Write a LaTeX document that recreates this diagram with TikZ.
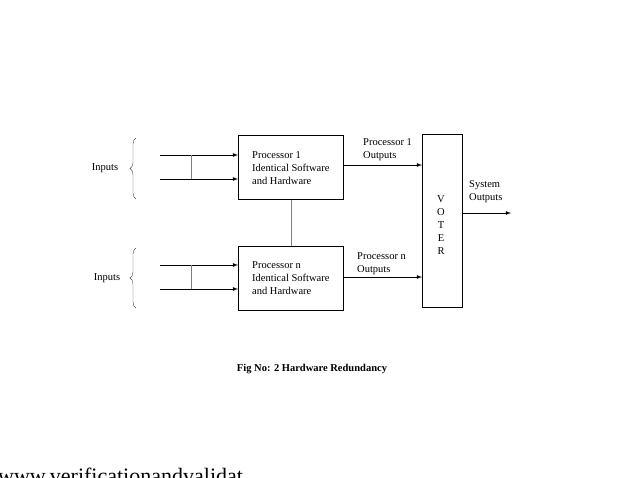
\documentclass[tikz,border=0pt]{standalone}
\usepackage{fontspec}
\setmainfont{Liberation Serif}
\usetikzlibrary{decorations.pathreplacing}
\begin{document}
\begin{tikzpicture}[x=1pt,y=-1pt,
  box/.style={draw,thick,minimum width=105pt,minimum height=64pt,inner sep=0},
  lbl/.style={font=\fontsize{10.5}{13}\selectfont,align=left,inner sep=0},
  arr/.style={thick,-latex},
  br/.style={decorate,decoration={brace,amplitude=6pt},gray!60!black}]
\path[use as bounding box] (0,0) rectangle (638,478);
\node[box,anchor=north west] (p1) at (238,135) {};
\node[box,anchor=north west] (pn) at (238,246) {};
\node[draw,thick,anchor=north west,minimum width=40pt,minimum height=173pt,inner sep=0] (v) at (422,134) {};
\node[lbl,anchor=west] (t1) at (252,168) {Processor 1\\Identical Software\\and Hardware};
\node[lbl,anchor=west] (tn) at (252,278) {Processor n\\Identical Software\\and Hardware};
\node[lbl,align=center] (vt) at (441,225) {V\\O\\T\\E\\R};
\draw[gray] (p1.south) -- (pn.north);
\foreach \y/\n in {155/a,179/b,265/c,289/d}{
  \coordinate (s\n) at (160,\y);
  \coordinate (e\n) at (238,\y);
  \draw[arr] (s\n) -- (e\n);}
\coordinate (ma) at (191,155); \coordinate (mb) at (191,179);
\coordinate (mc) at (191,265); \coordinate (md) at (191,289);
\draw[gray] (ma) -- (mb); \draw[gray] (mc) -- (md);
\coordinate (b1t) at (136,138); \coordinate (b1b) at (136,199);
\coordinate (b2t) at (136,248); \coordinate (b2b) at (136,308);
\draw[br] (b1b) -- (b1t);
\draw[br] (b2b) -- (b2t);
\node[lbl] (i1) at (105,168) {Inputs};
\node[lbl] (i2) at (107,278) {Inputs};
\coordinate (o1s) at (343,165); \coordinate (o1e) at (422,165);
\coordinate (ons) at (343,277); \coordinate (one) at (422,277);
\draw[arr] (o1s) -- (o1e); \draw[arr] (ons) -- (one);
\node[lbl,anchor=west] (po1) at (363,149.5) {Processor 1\\Outputs};
\node[lbl,anchor=west] (pon) at (357,263.5) {Processor n\\Outputs};
\coordinate (so) at (462,213); \coordinate (se) at (511,213);
\draw[arr] (so) -- (se);
\node[lbl,anchor=west] (sys) at (469,192) {System\\Outputs};
\node[font=\bfseries\fontsize{10.5}{12}\selectfont] (cap) at (312,369) {Fig No: 2 Hardware Redundancy};
\node[anchor=west,font=\fontsize{22}{24}\selectfont,inner sep=0] (url) at (-2,476) {www.verificationandvalidat};
\end{tikzpicture}
\end{document}
